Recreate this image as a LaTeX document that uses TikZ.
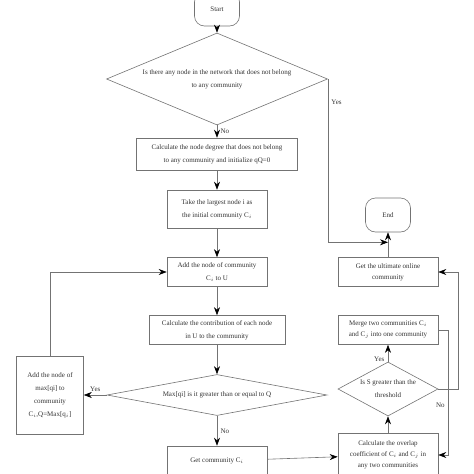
\documentclass[tikz,border=0pt]{standalone}
\usepackage{fontspec}
\setmainfont{Liberation Serif}
\usetikzlibrary{shapes.geometric, arrows.meta, positioning, calc}
\definecolor{linegray}{gray}{0.45}
\definecolor{textgray}{gray}{0.2}
\tikzstyle{terminal} = [rectangle, rounded corners=10pt, minimum width=45pt, minimum height=34pt, text centered, draw=linegray]
\tikzstyle{process} = [rectangle, minimum height=29pt, inner sep=1pt, align=center, draw=linegray]
\tikzstyle{decision} = [diamond, inner sep=0pt, align=center, draw=linegray]
\tikzstyle{tight} = [font=\fontsize{7}{11}\selectfont]
\tikzstyle{arrow} = [draw=linegray, -{Stealth[length=8pt,width=6pt,color=black]}]

\begin{document}
\begin{tikzpicture}[x=1pt, y=-1pt, node distance=58pt, line width=0.6pt,
    every node/.style={font=\fontsize{7}{13}\selectfont, text=textgray}]
    \useasboundingbox (0,0) rectangle (474,474);
    % main column
    \node (start) [terminal] at (217,9) {Start};
    \node (check) [decision, minimum width=221pt, minimum height=92pt, shape aspect=2.4, below of=start, yshift=-12pt] {Is there any node in the network that does not belong\\to any community};
    \node (degree) [process, minimum width=161pt, minimum height=32pt, below of=check, yshift=-17pt] {Calculate the node degree that does not belong\\to any community and initialize qQ=0};
    \node (largest) [process, minimum width=100pt, minimum height=38pt, below of=degree, yshift=3pt] {Take the largest node i as\\the initial community C$_i$};
    \node (addnode) [process, minimum width=100pt, below of=largest, yshift=-5pt] {Add the node of community\\C$_i$ to U};
    \node (contrib) [process, minimum width=136pt, below of=addnode] {Calculate the contribution of each node\\in U to the community};
    \node (maxcheck) [decision, minimum width=220pt, minimum height=41pt, shape aspect=5.4, below of=contrib, yshift=-7pt] {Max[qi] is it greater than or equal to Q};
    \node (getcomm) [process, minimum width=100pt, minimum height=30pt, below of=maxcheck, yshift=-8pt] {Get community C$_i$};
    \node (addmax) [process, minimum width=67pt, minimum height=78pt, left of=maxcheck, xshift=-109pt] {Add the node of\\max[qi] to\\community\\C$_i$,Q=Max[q$_i$]};
    % right column
    \node (ultimate) [process, tight, minimum width=100pt, right of=addnode, xshift=113pt] {Get the ultimate online\\community};
    \node (stop) [terminal, above of=ultimate, yshift=-1pt] {End};
    \node (merge) [process, tight, minimum width=100pt, below of=ultimate] {Merge two communities C$_i$\\and C$_j$ into one community};
    \node (thresh) [decision, minimum width=100pt, minimum height=54pt, shape aspect=1.85, below of=merge, yshift=-1pt] {Is S greater than the\\threshold};
    \node (overlap) [process, tight, minimum width=100pt, minimum height=44pt, below of=thresh, yshift=-8pt] {Calculate the overlap\\coefficient of C$_i$ and C$_j$ in\\any two communities};

    \draw [arrow] (start) -- (check);
    \draw [arrow] (check) -- node[anchor=west] {No} (degree);
    \draw [arrow] (degree) -- (largest);
    \draw [arrow] (largest) -- (addnode);
    \draw [arrow] (addnode) -- (contrib);
    \draw [arrow] (contrib) -- (maxcheck);
    \draw [arrow] (maxcheck) -- node[anchor=west] {No} (getcomm);
    \draw [arrow] (maxcheck.west) -- node[anchor=south] {Yes} (addmax.east);
    \draw [arrow] (addmax.north) |- (addnode.west);
    \draw [arrow] (getcomm) -- (overlap);
    \draw [arrow] (overlap) -- (thresh);
    \draw [arrow] (thresh) -- node[pos=0.15, anchor=east] {Yes} (merge);
    \draw [arrow] (thresh.east) -- ++(20,0) |- (ultimate.east);
    \draw [arrow] (merge.east) -- ++(10,0) |- node[pos=0.3, anchor=east] {No} (overlap.east);
    \draw [arrow] (ultimate) -- (stop);
    % yes branch to end
    \coordinate (endjoin) at ($(stop.south)+(0,10)$);
    \draw [arrow] (check.east) |- node[pos=0.07, anchor=west] {Yes} (endjoin);
\end{tikzpicture}
\end{document}
